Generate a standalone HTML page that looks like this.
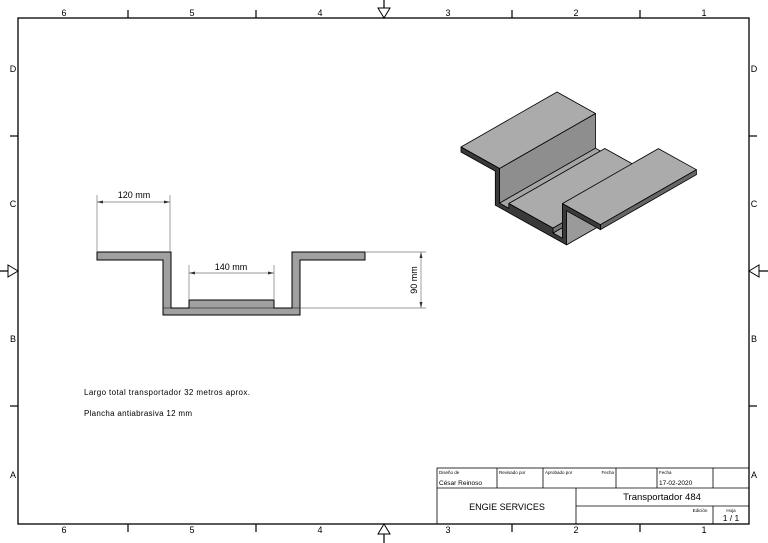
<!DOCTYPE html>
<html><head><meta charset="utf-8"><style>
html,body{margin:0;padding:0;background:#fff;}
svg{display:block;font-family:"Liberation Sans","DejaVu Sans",sans-serif;}
</style></head><body>
<svg width="768" height="543" viewBox="0 0 768 543" xmlns="http://www.w3.org/2000/svg">
<rect x="0" y="0" width="768" height="543" fill="#fff"/>
<rect x="18" y="18" width="731" height="506" fill="none" stroke="#000" stroke-width="1.3"/>
<g stroke="#000" stroke-width="1.2">
<line x1="128" y1="10" x2="128" y2="18"/><line x1="256" y1="10" x2="256" y2="18"/><line x1="512" y1="10" x2="512" y2="18"/><line x1="640" y1="10" x2="640" y2="18"/>
<line x1="128" y1="524" x2="128" y2="532"/><line x1="256" y1="524" x2="256" y2="532"/><line x1="512" y1="524" x2="512" y2="532"/><line x1="640" y1="524" x2="640" y2="532"/>
<line x1="10" y1="136" x2="18" y2="136"/><line x1="10" y1="406" x2="18" y2="406"/>
<line x1="749" y1="136" x2="757" y2="136"/><line x1="749" y1="406" x2="757" y2="406"/>
<line x1="384" y1="0" x2="384" y2="18"/><line x1="384" y1="524" x2="384" y2="543"/>
<line x1="0" y1="271" x2="18" y2="271"/><line x1="749" y1="271" x2="768" y2="271"/>
</g>
<g fill="#fff" stroke="#000" stroke-width="1">
<polygon points="384,18 378,8 390,8"/>
<polygon points="384,524 378,534 390,534"/>
<polygon points="18,271 8,265 8,277"/>
<polygon points="749,271 759,265 759,277"/>
</g>
<g font-size="9" fill="#000" text-anchor="middle">
<text x="64" y="16">6</text><text x="192" y="16">5</text><text x="320" y="16">4</text><text x="448" y="16">3</text><text x="576" y="16">2</text><text x="704" y="16">1</text>
<text x="64" y="533">6</text><text x="192" y="533">5</text><text x="320" y="533">4</text><text x="448" y="533">3</text><text x="576" y="533">2</text><text x="704" y="533">1</text>
<text x="13" y="72">D</text><text x="13" y="207">C</text><text x="13" y="342">B</text><text x="13" y="478">A</text>
<text x="754" y="72">D</text><text x="754" y="207">C</text><text x="754" y="342">B</text><text x="754" y="478">A</text>
</g>
<polygon points="97,252 171,252 171,308 189,308 189,300 274,300 274,308 292,308 292,252 365,252 365,260 300,260 300,315 163,315 163,260 97,260" fill="#a0a0a0" stroke="#000" stroke-width="1"/>
<line x1="163" y1="308" x2="300" y2="308" stroke="#000" stroke-width="0.5"/>
<g stroke="#777" stroke-width="0.7" fill="none">
<line x1="97" y1="195" x2="97" y2="252"/><line x1="170" y1="195" x2="170" y2="252"/>
<line x1="97" y1="202" x2="170" y2="202"/>
<line x1="189" y1="265" x2="189" y2="300"/><line x1="274" y1="265" x2="274" y2="300"/>
<line x1="189" y1="273" x2="274" y2="273"/>
<line x1="365" y1="252" x2="426" y2="252"/><line x1="300" y1="308" x2="426" y2="308"/>
<line x1="421" y1="252" x2="421" y2="308"/>
</g>
<g fill="#333">
<polygon points="97,202 103,200.5 103,203.5"/><polygon points="170,202 164,200.5 164,203.5"/>
<polygon points="189,273 195,271.5 195,274.5"/><polygon points="274,273 268,271.5 268,274.5"/>
<polygon points="421,252 419.5,258 422.5,258"/><polygon points="421,308 419.5,302 422.5,302"/>
</g>
<g font-size="9" fill="#000" text-anchor="middle">
<text x="134" y="198">120 mm</text>
<text x="231" y="270">140 mm</text>
<text transform="translate(417,280) rotate(-90)">90 mm</text>
</g>
<g font-size="8" fill="#000">
<text x="84" y="395" textLength="166">Largo total transportador 32 metros aprox.</text>
<text x="84" y="416" textLength="108">Plancha antiabrasiva 12 mm</text>
</g>
<!-- isometric -->
<g stroke="#000" stroke-width="0.8" stroke-linejoin="round">
<polygon points="499.5,168.5 499.5,203.2 595.5,148.2 595.5,113.5" fill="#8e8e8e"/>
<polygon points="499.5,203.2 508.8,208.4 604.8,153.4 595.5,148.2" fill="#a5a5a5"/>
<polygon points="508.8,203.5 553,228.1 649,173.1 604.8,148.5" fill="#ababab"/>
<polygon points="553,228.1 553,233.1 649,178.1 649,173.1" fill="#777"/>
<polygon points="553,233.1 562.4,238.3 658.4,183.3 649,178.1" fill="#a5a5a5"/>
<polygon points="566.6,210.8 566.6,244.9 662.6,189.9 662.6,155.8" fill="#9a9a9a"/>
<polygon points="562.4,203.6 600.4,224.7 696.4,169.7 658.4,148.6" fill="#ababab"/>
<polygon points="600.4,224.7 600.4,229.7 696.4,174.7 696.4,169.7" fill="#666"/>
<polygon points="461,147 499.5,168.5 595.5,113.5 557,92" fill="#ababab"/>
<polygon points="461,147 499.5,168.5 499.5,203.2 508.8,208.4 508.8,203.5 553,228.1 553,233.1 562.4,238.3 562.4,203.6 600.4,224.7 600.4,229.7 566.6,210.8 566.6,244.9 495.3,205.2 495.3,171.1 461,152" fill="#3a3a3a"/>
</g>
<g stroke="#000" stroke-width="0.8" fill="none">
<rect x="437" y="468" width="312" height="56"/>
<line x1="437" y1="488" x2="749" y2="488"/>
<line x1="576" y1="506" x2="749" y2="506"/>
<line x1="497" y1="468" x2="497" y2="488"/>
<line x1="543" y1="468" x2="543" y2="488"/>
<line x1="616" y1="468" x2="616" y2="488"/>
<line x1="657" y1="468" x2="657" y2="488"/>
<line x1="713" y1="468" x2="713" y2="488"/>
<line x1="576" y1="488" x2="576" y2="524"/>
<line x1="713" y1="506" x2="713" y2="524"/>
</g>
<g fill="#000">
<text x="439" y="474" font-size="4.5">Diseño de</text>
<text x="499" y="474" font-size="4.5">Revisado por</text>
<text x="545" y="474" font-size="4.5">Aprobado por</text>
<text x="614" y="474" font-size="4.5" text-anchor="end">Fecha</text>
<text x="659" y="474" font-size="4.5">Fecha</text>
<text x="439" y="485" font-size="6.5">César Reinoso</text>
<text x="659" y="485" font-size="6.5">17-02-2020</text>
<text x="507" y="510" font-size="9" text-anchor="middle">ENGIE SERVICES</text>
<text x="662" y="500" font-size="9.5" text-anchor="middle">Transportador 484</text>
<text x="700" y="512" font-size="4.5" text-anchor="middle">Edición</text>
<text x="731" y="512" font-size="4.5" text-anchor="middle">Hoja</text>
<text x="731" y="521" font-size="8.5" text-anchor="middle">1 / 1</text>
</g>
</svg>
</body></html>
